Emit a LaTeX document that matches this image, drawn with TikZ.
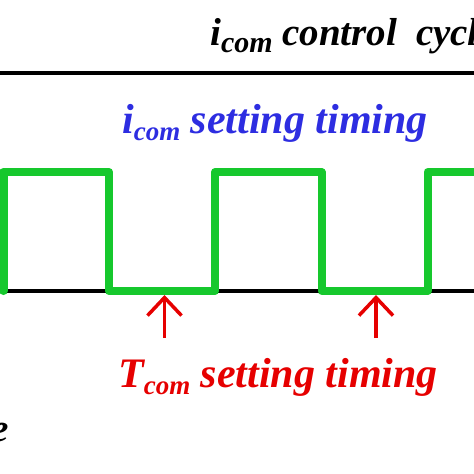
\documentclass[tikz,border=0pt]{standalone}
\usepackage{fontspec}
\setmainfont{Liberation Serif}
\usetikzlibrary{positioning, arrows.meta}
\definecolor{sigGreen}{RGB}{22,200,45}
\definecolor{setBlue}{RGB}{45,45,225}
\definecolor{setRed}{RGB}{230,0,0}
\newcommand{\lowsub}[2][27]{\raisebox{-7pt}{\fontsize{#1}{#1}\selectfont #2}}

\begin{document}
\begin{tikzpicture}[
        x=1pt, y=-1pt,
        label/.style={inner sep=0pt, anchor=base west, font=\fontsize{42}{42}\selectfont\bfseries\itshape},
        axis/.style={line width=4pt, black},
        wave/.style={line width=8pt, sigGreen, line join=round, line cap=round},
        arrow/.style={-{Straight Barb[length=18pt, width=34pt, line width=3.5pt]}, line width=3.5pt, setRed}
    ]
    \useasboundingbox (0,0) rectangle (474,474);
    \clip (0,0) rectangle (474,474);

    % axes
    \coordinate (topL) at (0,72.5);
    \coordinate (topR) at (474,72.5);
    \coordinate (lowL) at (0,290.5);
    \coordinate (lowR) at (474,290.5);
    \draw[axis] (topL) -- (topR);
    \draw[axis] (lowL) -- (lowR);

    % square wave
    \draw[wave] (3.5,291) -- (3.5,172) -- (109,172) -- (109,291) -- (215,291)
        -- (215,172) -- (321.5,172) -- (321.5,291) -- (427.5,291) -- (427.5,172) -- (480,172);

    % labels
    \node[label, font=\fontsize{39}{39}\selectfont\bfseries\itshape] (cycle) at (210,45) {i\lowsub[30]{com} control\hspace{9pt} cycle};
    \node[label, setBlue] (icom) at (122,133) {i\lowsub{com} setting timing};
    \node[label, setRed] (tcom) at (118,387) {T\lowsub{com} setting timing};
    \node[label, anchor=base east, font=\fontsize{39}{39}\selectfont\bfseries\itshape] (tail) at (9,441) {e};

    % setting timing arrows
    \coordinate (tipA) at (164.5,295);
    \coordinate (endA) at (164.5,338);
    \coordinate (tipB) at (376,295);
    \coordinate (endB) at (376,338);
    \draw[arrow] (endA) -- (tipA);
    \draw[arrow] (endB) -- (tipB);

\end{tikzpicture}
\end{document}
